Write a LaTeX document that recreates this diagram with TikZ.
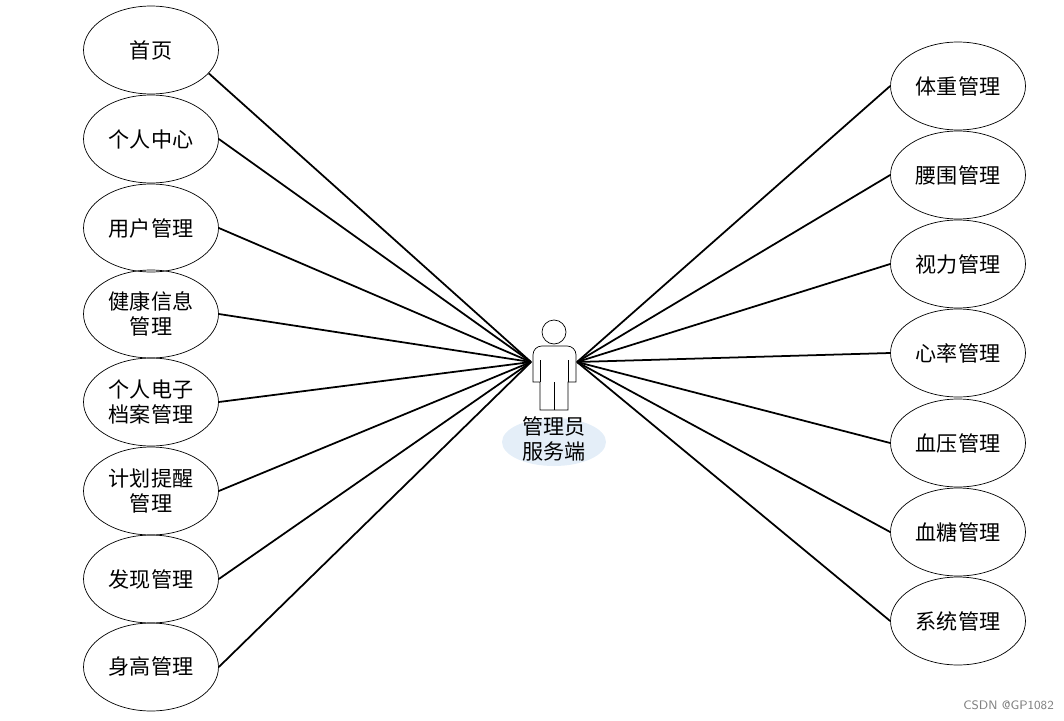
\documentclass[tikz,border=0pt]{standalone}
\usepackage{fontspec}
\newfontfamily\cjk{Noto Sans CJK SC}
\usepackage{tikz}
\usetikzlibrary{shapes.geometric}
\definecolor{glowblue}{RGB}{228,238,248}

\tikzset{
  usecase/.style={draw, ellipse, minimum width=2.7cm, minimum height=1.76cm, align=center, font=\cjk\fontsize{12pt}{14pt}\selectfont, inner sep=1pt},
  link/.style={line width=1pt}
}

\begin{document}
\begin{tikzpicture}[x=0.02cm, y=-0.02cm]
  \useasboundingbox (0,0) rectangle (1064,720);
  % actor
  \fill[glowblue] (554,442) ellipse (52 and 24);
  \draw[fill=white] (554,332) circle (12);
  \draw[fill=white] (540,410) -- (540,382) -- (533,382) {[rounded corners=5pt] -- (533,346) -- (576,346)} -- (576,382) -- (568,382) -- (568,410) -- cycle;
  \draw (554,382) -- (554,410);
  \draw (540,382) -- (540,360);
  \draw (568,382) -- (568,360);
  \coordinate (L) at (531,362);
  \coordinate (R) at (577,362);
  \node[font=\cjk\fontsize{12pt}{14pt}\selectfont, align=center] (admin) at (554,439) {管理员\\服务端};

  % left use cases
  \node[usecase] (home) at (151,50) {首页};
  \node[usecase] (mine) at (151,139) {个人中心};
  \node[usecase] (user) at (151,228) {用户管理};
  \node[usecase] (health) at (151,314) {健康信息\\管理};
  \node[usecase] (record) at (151,402) {个人电子\\档案管理};
  \node[usecase] (plan) at (151,491) {计划提醒\\管理};
  \node[usecase] (find) at (151,579) {发现管理};
  \node[usecase] (height) at (151,667) {身高管理};

  % right use cases
  \node[usecase] (weight) at (958,86) {体重管理};
  \node[usecase] (waist) at (958,175) {腰围管理};
  \node[usecase] (vision) at (958,264) {视力管理};
  \node[usecase] (heart) at (958,353) {心率管理};
  \node[usecase] (pressure) at (958,443) {血压管理};
  \node[usecase] (sugar) at (958,532) {血糖管理};
  \node[usecase] (system) at (958,621) {系统管理};

  \draw[link] (home.-22) -- (L);
  \foreach \n in {mine,user,health,record,plan,find,height}
    \draw[link] (\n.east) -- (L);
  \foreach \n in {weight,waist,vision,heart,pressure,sugar,system}
    \draw[link] (\n.west) -- (R);

  \node[anchor=south east, text=gray, font=\sffamily\fontsize{7pt}{8pt}\selectfont] (mark) at (1060,716) {CSDN @GP1082};
\end{tikzpicture}
\end{document}
